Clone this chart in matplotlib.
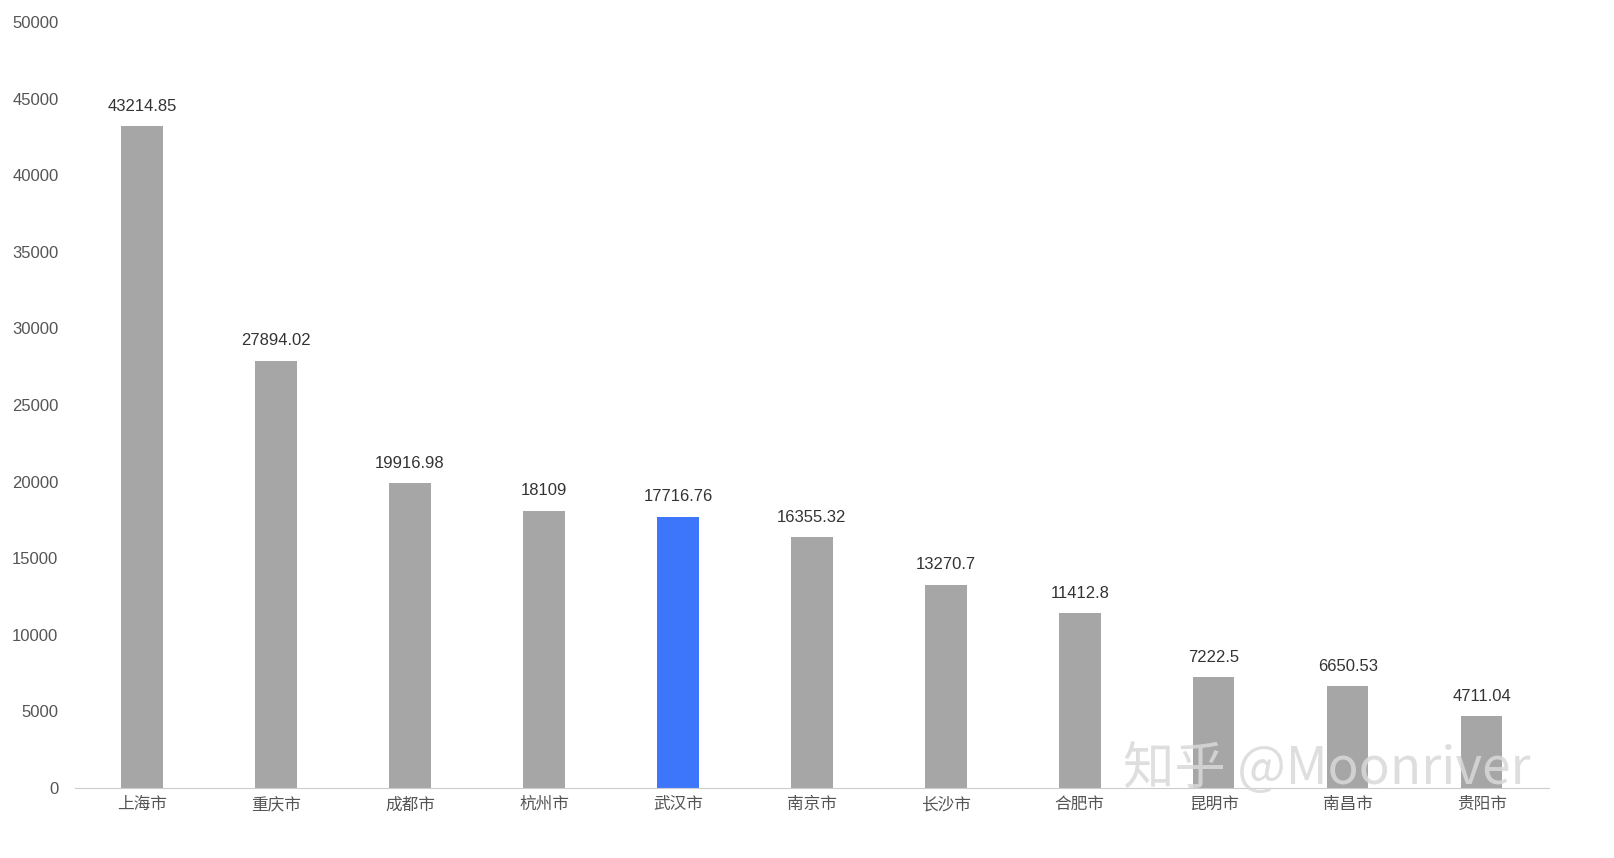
import matplotlib
matplotlib.use("Agg")
import matplotlib.pyplot as plt

cities = ["上海市","重庆市","成都市","杭州市","武汉市","南京市","长沙市","合肥市","昆明市","南昌市","贵阳市"]
values = [43214.85,27894.02,19916.98,18109,17716.76,16355.32,13270.7,11412.8,7222.5,6650.53,4711.04]
labels = ["43214.85","27894.02","19916.98","18109","17716.76","16355.32","13270.7","11412.8","7222.5","6650.53","4711.04"]
highlight = "武汉市"

plt.rcParams['font.family'] = ['Noto Sans CJK SC', 'DejaVu Sans']
fig = plt.figure(figsize=(16.14, 8.58), dpi=100)
ax = fig.add_axes([0.0465, 0.0816, 0.913, 0.8928])
colors = ["#3e76fb" if c == highlight else "#a6a6a6" for c in cities]
x = range(len(cities))
ax.bar(x, values, width=0.31, color=colors)
for i, (v, l) in enumerate(zip(values, labels)):
    ax.text(i, v + 800, l, ha='center', va='bottom', fontsize=12, color='#333333', family=['Liberation Sans','DejaVu Sans'])
ax.set_xlim(-0.5, len(cities) - 0.5)
ax.set_ylim(0, 50000)
ax.set_yticks(range(0, 50001, 5000))
ax.set_yticklabels([str(t) for t in range(0, 50001, 5000)], family=['Liberation Sans','DejaVu Sans'])
ax.set_xticks(list(x))
ax.set_xticklabels(cities)
ax.tick_params(axis='y', length=0, labelsize=12, labelcolor='#555555', pad=12)
ax.tick_params(axis='x', length=0, labelsize=12, labelcolor='#555555', pad=6)
for s in ['top', 'right', 'left']:
    ax.spines[s].set_visible(False)
ax.spines['bottom'].set_color('#cccccc')
fig.text(0.948, 0.072, "知乎 @Moonriver", ha='right', va='bottom', fontsize=37, color='#d9d9d9', alpha=0.85)
fig.savefig("out.png", dpi=100)
